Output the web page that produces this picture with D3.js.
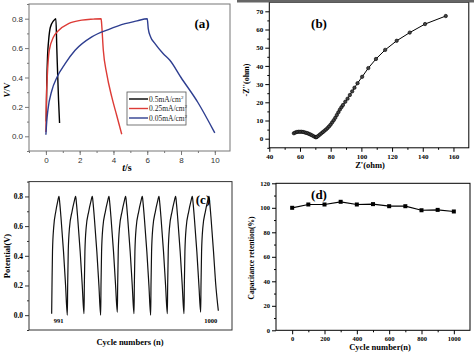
<!DOCTYPE html>
<html><head><meta charset="utf-8">
<script src="https://cdn.jsdelivr.net/npm/d3@7"></script>
<style>body{margin:0;background:#fff}svg{display:block}</style>
</head><body>
<svg id="chart" width="474" height="353"></svg>
<script>
// ---------- Panel (a): galvanostatic charge/discharge ----------
const gcdLabels = ["0.5mA/cm", "0.25mA/cm", "0.05mA/cm"];
const gcdColors = ["#000000", "#dd3b36", "#2e3e90"];
const gcdTime05 = [0.02, 0.05, 0.1, 0.16, 0.26, 0.45, 0.59, 0.65, 0.75, 0.81];
const gcdVolt05 = [0.1, 0.35, 0.55, 0.65, 0.74, 0.785, 0.8, 0.585, 0.245, 0.09];
const gcdTime025 = [0, 0.03, 0.08, 0.2, 0.45, 0.75, 1.34, 2.13, 2.8, 3.27, 3.3, 3.4, 3.6, 3.9, 4.19, 4.49];
const gcdVolt025 = [0.03, 0.25, 0.4, 0.585, 0.675, 0.72, 0.766, 0.79, 0.797, 0.8, 0.766, 0.585, 0.426, 0.268, 0.143, 0.014];
const gcdTime005 = [0, 0.05, 0.12, 0.35, 0.65, 1.14, 1.73, 2.72, 3.7, 4.69, 5.4, 6.0, 6.06, 6.2, 6.46, 6.95, 7.34, 8.0, 9.0, 10.0];
const gcdVolt005 = [0.01, 0.1, 0.18, 0.31, 0.4, 0.494, 0.585, 0.676, 0.726, 0.766, 0.785, 0.8, 0.733, 0.676, 0.63, 0.562, 0.517, 0.4, 0.23, 0.023];
const gcdXTicks = [0, 2, 4, 6, 8, 10];
const gcdYTicks = [0.0, 0.2, 0.4, 0.6, 0.8];

// ---------- Panel (b): Nyquist plot ----------
const zReal = [56, 57, 58, 59, 60, 61, 62, 63, 64, 65, 66, 67, 68, 69, 70, 70.5, 71, 72, 73, 74, 75, 76, 77, 78, 79, 80, 81, 82, 83, 84, 85, 86, 87, 88, 89.5, 91, 92.5, 94, 95.5, 97.5, 100.5, 104.5, 109.5, 115.5, 123, 131.5, 141.5, 155];
const zImag = [3, 3.4, 3.7, 3.8, 3.8, 3.8, 3.7, 3.5, 3.2, 3.0, 2.6, 2.2, 1.8, 1.3, 0.9, 0.8, 1.0, 1.6, 2.3, 3.0, 3.7, 4.4, 5.1, 5.9, 6.8, 7.8, 9.0, 10.2, 11.5, 13.0, 14.5, 16.0, 17.3, 18.5, 20.3, 22.0, 24.0, 26.0, 28.0, 30.5, 34.0, 38.8, 43.8, 48.8, 53.8, 58.3, 63.0, 67.4];
const nyqXTicks = [40, 60, 80, 100, 120, 140, 160];
const nyqYTicks = [0, 10, 20, 30, 40, 50, 60, 70];

// ---------- Panel (c): cycles 991-1000 ----------
const cycleCurve = [
  [-0.94,0.01],[-0.92,0.2],[-0.89,0.43],[-0.82,0.59],[-0.69,0.7],[-0.59,0.76],[-0.5,0.8],[-0.45,0.75],[-0.375,0.65],[-0.23,0.43],[-0.105,0.2],[0,0.0],
  [0.02,0.2],[0.055,0.43],[0.13,0.59],[0.285,0.7],[0.4,0.76],[0.5,0.8],[0.55,0.75],[0.625,0.65],[0.77,0.43],[0.895,0.2],[1.0,0.01],
  [1.02,0.2],[1.055,0.43],[1.13,0.59],[1.285,0.7],[1.4,0.76],[1.5,0.8],[1.55,0.75],[1.625,0.65],[1.77,0.43],[1.895,0.2],[2.0,0.0],
  [2.02,0.2],[2.055,0.43],[2.13,0.59],[2.285,0.7],[2.4,0.76],[2.5,0.8],[2.55,0.75],[2.625,0.65],[2.77,0.43],[2.895,0.2],[3.0,0.02],
  [3.02,0.2],[3.055,0.43],[3.13,0.59],[3.285,0.7],[3.4,0.76],[3.5,0.8],[3.55,0.75],[3.625,0.65],[3.77,0.43],[3.895,0.2],[4.0,0.01],
  [4.02,0.2],[4.055,0.43],[4.13,0.59],[4.285,0.7],[4.4,0.76],[4.5,0.8],[4.55,0.75],[4.625,0.65],[4.77,0.43],[4.895,0.2],[5.0,0.0],
  [5.02,0.2],[5.055,0.43],[5.13,0.59],[5.285,0.7],[5.4,0.76],[5.5,0.8],[5.55,0.75],[5.625,0.65],[5.77,0.43],[5.895,0.2],[6.0,0.01],
  [6.02,0.2],[6.055,0.43],[6.13,0.59],[6.285,0.7],[6.4,0.76],[6.5,0.8],[6.55,0.75],[6.625,0.65],[6.77,0.43],[6.895,0.2],[7.0,0.01],
  [7.02,0.2],[7.055,0.43],[7.13,0.59],[7.285,0.7],[7.4,0.76],[7.5,0.8],[7.55,0.75],[7.625,0.65],[7.77,0.43],[7.895,0.2],[8.0,0.02],
  [8.02,0.2],[8.055,0.43],[8.13,0.59],[8.285,0.7],[8.4,0.76],[8.5,0.8],[8.55,0.75],[8.625,0.65],[8.77,0.43],[8.895,0.22],[9.06,0.03]
];
const cycleYTicks = [0.0, 0.2, 0.4, 0.6, 0.8];
const cycleStartLabel = "991";
const cycleEndLabel = "1000";

// ---------- Panel (d): capacitance retention ----------
const retCycles = [0, 100, 200, 300, 400, 500, 600, 700, 800, 900, 1000];
const retValues = [100, 102.7, 102.7, 104.9, 102.7, 103, 101.3, 101.3, 98, 98.3, 97];
const retXTicks = [0, 200, 400, 600, 800, 1000];
const retYTicks = [0, 20, 40, 60, 80, 100, 120];

const svg = d3.select("#chart");
const SERIF = "'Liberation Serif','Times New Roman',serif";
const SANS = "'Liberation Sans',Arial,sans-serif";

function axes(g, x, y, o) {
  const xr = x.range(), yr = y.range();
  const col = o.frame || "#000";
  // minor ticks
  if (o.yMinor) g.append("g").attr("transform", `translate(${xr[0]},0)`)
    .call(d3.axisLeft(y).tickValues(o.yMinor).tickSize(o.minorLen || 2).tickFormat(""))
    .call(s => { s.select(".domain").remove(); s.selectAll("line").attr("stroke", col); });
  if (o.xMinor) g.append("g").attr("transform", `translate(0,${yr[0]})`)
    .call(d3.axisBottom(x).tickValues(o.xMinor).tickSize(o.minorLen || 2).tickFormat(""))
    .call(s => { s.select(".domain").remove(); s.selectAll("line").attr("stroke", col); });
  if (o.yTicks) g.append("g").attr("transform", `translate(${xr[0]},0)`)
    .call(d3.axisLeft(y).tickValues(o.yTicks).tickSize(o.majorLen || 4).tickPadding(2).tickFormat(o.yFmt))
    .call(s => {
      s.select(".domain").remove();
      s.selectAll("line").attr("stroke", col);
      s.selectAll("text").attr("font-family", o.tickFont).attr("font-size", o.tickSize)
        .attr("font-weight", o.tickWeight).attr("fill", o.tickColor || "#000");
    });
  if (o.xTicks) g.append("g").attr("transform", `translate(0,${yr[0]})`)
    .call(d3.axisBottom(x).tickValues(o.xTicks).tickSize(o.majorLen || 4).tickPadding(2).tickFormat(o.xFmt))
    .call(s => {
      s.select(".domain").remove();
      s.selectAll("line").attr("stroke", col);
      s.selectAll("text").attr("font-family", o.tickFont).attr("font-size", o.tickSize)
        .attr("font-weight", o.tickWeight).attr("fill", o.tickColor || "#000");
    });
  g.append("rect").attr("x", xr[0]).attr("y", yr[1]).attr("width", xr[1] - xr[0]).attr("height", yr[0] - yr[1])
    .attr("fill", "none").attr("stroke", col).attr("stroke-width", o.frameW || 1);
}

// ===== Panel (a) =====
{
  const g = svg.append("g");
  const x = d3.scaleLinear().domain([-1, 10.9]).range([29, 230]);
  const y = d3.scaleLinear().domain([-0.1, 0.9]).range([151, 4]);
  const series = [[gcdTime05, gcdVolt05], [gcdTime025, gcdVolt025], [gcdTime005, gcdVolt005]];
  const line = d3.line().x(d => x(d[0])).y(d => y(d[1])).curve(d3.curveMonotoneX);
  series.forEach((s, i) => {
    const pts = s[0].map((t, k) => [t, s[1][k]]);
    g.append("path").attr("d", line(pts)).attr("fill", "none").attr("stroke", gcdColors[i]).attr("stroke-width", 1.4);
  });
  axes(g, x, y, {
    frame: "#777", xTicks: gcdXTicks, yTicks: gcdYTicks,
    xMinor: d3.range(-1, 11, 1), yMinor: [-0.1, 0.1, 0.3, 0.5, 0.7, 0.9],
    yFmt: d3.format(".1f"), xFmt: d3.format("d"),
    tickFont: SANS, tickSize: 8, tickWeight: "normal", tickColor: "#333"
  });
  // legend
  const lg = g.append("g");
  lg.append("rect").attr("x", 127).attr("y", 92).attr("width", 59).attr("height", 33)
    .attr("fill", "#fff").attr("stroke", "#555").attr("stroke-width", 0.8);
  gcdLabels.forEach((lab, i) => {
    const yy = 99 + i * 9.5;
    lg.append("line").attr("x1", 129).attr("x2", 148).attr("y1", yy).attr("y2", yy)
      .attr("stroke", gcdColors[i]).attr("stroke-width", 1.4);
    const t = lg.append("text").attr("x", 149).attr("y", yy + 2.6).attr("font-family", SERIF)
      .attr("font-size", 7.5).attr("fill", "#222").text(lab);
    t.append("tspan").attr("dy", -3).attr("font-size", 5).text("2");
  });
  g.append("text").attr("x", 202).attr("y", 28).attr("text-anchor", "middle").attr("font-family", SERIF)
    .attr("font-weight", "bold").attr("font-size", 13).text("(a)");
  const yl = g.append("text").attr("transform", "translate(10,90) rotate(-90)").attr("text-anchor", "middle")
    .attr("font-family", SERIF).attr("font-weight", "bold").attr("font-size", 9);
  yl.append("tspan").attr("font-style", "italic").text("V");
  yl.append("tspan").text("/V");
  const xl = g.append("text").attr("x", 127).attr("y", 171).attr("text-anchor", "middle")
    .attr("font-family", SERIF).attr("font-weight", "bold").attr("font-size", 10);
  xl.append("tspan").attr("font-style", "italic").text("t");
  xl.append("tspan").text("/s");
}

// ===== Panel (b) =====
{
  const g = svg.append("g");
  const x = d3.scaleLinear().domain([40, 170]).range([269.3, 468.8]);
  const y = d3.scaleLinear().domain([-5, 75]).range([147.8, 2.2]);
  const pts = zReal.map((v, i) => [v, zImag[i]]);
  g.append("path").attr("d", d3.line().x(d => x(d[0])).y(d => y(d[1]))(pts))
    .attr("fill", "none").attr("stroke", "#000").attr("stroke-width", 1);
  g.selectAll("circle").data(pts).join("circle").attr("cx", d => x(d[0])).attr("cy", d => y(d[1]))
    .attr("r", 1.7).attr("fill", "#444").attr("stroke", "#000").attr("stroke-width", 0.6);
  axes(g, x, y, {
    frame: "#000", xTicks: nyqXTicks, yTicks: nyqYTicks,
    xMinor: d3.range(50, 170, 20), yMinor: d3.range(-5, 75, 10),
    yFmt: d3.format("d"), xFmt: d3.format("d"),
    tickFont: SERIF, tickSize: 7, tickWeight: "bold"
  });
  g.append("line").attr("x1", 237).attr("x2", 474).attr("y1", 1.2).attr("y2", 1.2)
    .attr("stroke", "#666").attr("stroke-width", 2.5);
  g.append("text").attr("x", 319).attr("y", 28).attr("text-anchor", "middle").attr("font-family", SERIF)
    .attr("font-weight", "bold").attr("font-size", 13).text("(b)");
  g.append("text").attr("transform", "translate(249,80) rotate(-90)").attr("text-anchor", "middle")
    .attr("font-family", SERIF).attr("font-weight", "bold").attr("font-size", 8).text("-Z''(ohm)");
  g.append("text").attr("x", 370).attr("y", 168).attr("text-anchor", "middle")
    .attr("font-family", SERIF).attr("font-weight", "bold").attr("font-size", 8.5).text("Z'(ohm)");
}

// ===== Panel (c) =====
{
  const g = svg.append("g");
  const x = d3.scaleLinear().domain([-2.3, 9.88]).range([29, 232]);
  const y = d3.scaleLinear().domain([-0.1, 0.9]).range([330, 181.6]);
  g.append("path").attr("d", d3.line().x(d => x(d[0])).y(d => y(d[1])).curve(d3.curveMonotoneX)(cycleCurve))
    .attr("fill", "none").attr("stroke", "#111").attr("stroke-width", 1.2);
  axes(g, x, y, {
    frame: "#333", yTicks: cycleYTicks, yMinor: [-0.1, 0.1, 0.3, 0.5, 0.7, 0.9],
    yFmt: d3.format(".1f"), tickFont: SERIF, tickSize: 7.5, tickWeight: "bold"
  });
  g.append("text").attr("x", x(-0.52)).attr("y", 323).attr("text-anchor", "middle").attr("font-family", SERIF)
    .attr("font-weight", "bold").attr("font-size", 6.5).text(cycleStartLabel);
  g.append("text").attr("x", x(8.6)).attr("y", 323).attr("text-anchor", "middle").attr("font-family", SERIF)
    .attr("font-weight", "bold").attr("font-size", 6.5).text(cycleEndLabel);
  g.append("text").attr("x", 203).attr("y", 204).attr("text-anchor", "middle").attr("font-family", SERIF)
    .attr("font-weight", "bold").attr("font-size", 13).text("(c)");
  g.append("text").attr("transform", "translate(10,256) rotate(-90)").attr("text-anchor", "middle")
    .attr("font-family", SERIF).attr("font-weight", "bold").attr("font-size", 8.5).text("Potential(V)");
  g.append("text").attr("x", 130).attr("y", 345).attr("text-anchor", "middle")
    .attr("font-family", SERIF).attr("font-weight", "bold").attr("font-size", 8.5).text("Cycle numbers (n)");
}

// ===== Panel (d) =====
{
  const g = svg.append("g");
  const x = d3.scaleLinear().domain([-100, 1100]).range([276, 470]);
  const y = d3.scaleLinear().domain([0, 120]).range([330.3, 183.3]);
  const pts = retCycles.map((c, i) => [c, retValues[i]]);
  g.append("path").attr("d", d3.line().x(d => x(d[0])).y(d => y(d[1]))(pts))
    .attr("fill", "none").attr("stroke", "#000").attr("stroke-width", 1.2);
  g.selectAll("rect.m").data(pts).join("rect").attr("class", "m")
    .attr("x", d => x(d[0]) - 2).attr("y", d => y(d[1]) - 2).attr("width", 4).attr("height", 4).attr("fill", "#000");
  axes(g, x, y, {
    frame: "#000", xTicks: retXTicks, yTicks: retYTicks,
    xMinor: d3.range(100, 1100, 200), yMinor: d3.range(10, 120, 20),
    yFmt: d3.format("d"), xFmt: d3.format("d"),
    tickFont: SERIF, tickSize: 6.5, tickWeight: "bold"
  });
  g.append("text").attr("x", 319).attr("y", 199).attr("text-anchor", "middle").attr("font-family", SERIF)
    .attr("font-weight", "bold").attr("font-size", 13).text("(d)");
  g.append("text").attr("transform", "translate(254,258) rotate(-90)").attr("text-anchor", "middle")
    .attr("font-family", SERIF).attr("font-weight", "bold").attr("font-size", 7.5).text("Capacitance retention(%)");
  g.append("text").attr("x", 380).attr("y", 350).attr("text-anchor", "middle")
    .attr("font-family", SERIF).attr("font-weight", "bold").attr("font-size", 8.5).text("Cycle number(n)");
}
</script>
</body></html>
